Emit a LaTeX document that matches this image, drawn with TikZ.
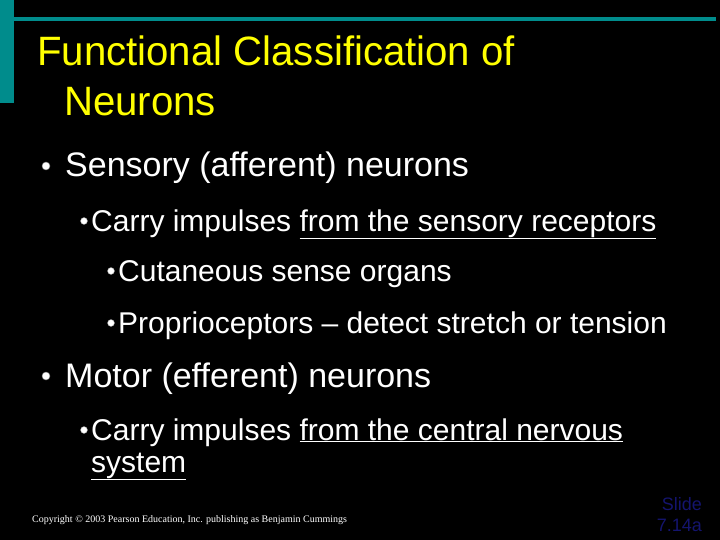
\documentclass[tikz,border=0pt]{standalone}
\usepackage{fontspec}
\setmainfont{Liberation Sans}
\newfontfamily\serifcr{Liberation Serif}
\begin{document}
\begin{tikzpicture}[x=1pt,y=-1pt,
  txt/.style={anchor=base west,inner sep=0pt,text=white},
  lone/.style={txt,font=\fontsize{34}{38}\selectfont},
  ltwo/.style={txt,font=\fontsize{30}{34}\selectfont},
  bul/.style={circle,fill=white,draw=gray,inner sep=0pt,minimum size=#1},
  ttl/.style={anchor=base west,inner sep=0pt,text={rgb,255:red,255;green,255;blue,0},font=\fontsize{41}{46}\selectfont,xscale=0.98}]
\useasboundingbox[fill=black] (0,0) rectangle (720,540);
\fill[teal!90!cyan] (0,0) rectangle (14,103);
\fill[teal!90!cyan] (14,17) rectangle (716,21);
\node[ttl] (t1) at (37,66) {Functional Classification of};
\node[ttl] (t2) at (64,116) {Neurons};
\node[bul=8pt] (b1) at (46,166) {};
\node[lone] (s1) at (65,177) {Sensory (afferent) neurons};
\node[bul=7pt] (b2) at (84,221) {};
\node[ltwo] (s2) at (91,231) {Carry impulses \underline{from the sensory receptors}};
\node[bul=7pt] (b3) at (111,271) {};
\node[ltwo] (s3) at (118,281) {Cutaneous sense organs};
\node[bul=7pt] (b4) at (111,323) {};
\node[ltwo] (s4) at (118,333) {Proprioceptors -- detect stretch or tension};
\node[bul=8pt] (b5) at (46,376) {};
\node[lone] (s5) at (65,387) {Motor (efferent) neurons};
\node[bul=7pt] (b6) at (84,430) {};
\node[ltwo] (s6) at (91,440) {Carry impulses \underline{from the central nervous}};
\node[ltwo] (s7) at (91,472) {\underline{system}};
\node[txt,font=\serifcr\fontsize{10}{12}\selectfont] (c) at (32,522) {Copyright \textcopyright{} 2003 Pearson Education, Inc. publishing as Benjamin Cummings};
\node[anchor=north east,inner sep=0pt,align=right,text={rgb,255:red,20;green,20;blue,110},font=\fontsize{18}{21}\selectfont] (sl) at (702,497) {Slide\\7.14a};
\end{tikzpicture}
\end{document}
